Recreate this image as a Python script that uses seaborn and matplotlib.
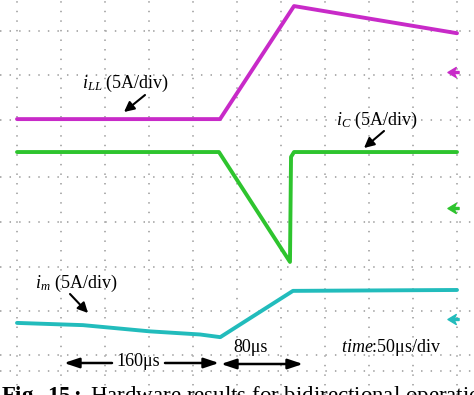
import numpy as np
import pandas as pd
import matplotlib
matplotlib.use("Agg")
import matplotlib.pyplot as plt
import seaborn as sns
from matplotlib.path import Path

# ---------------- data (time in us, level in screen divisions) ----------------
ill_t = [0, 230.7, 314.8, 500]
ill_v = [6.20, 6.20, 8.74, 8.13]

ic_t = [0, 229.5, 310.2, 311.4, 314.8, 500]
ic_v = [5.46, 5.46, 2.99, 5.35, 5.46, 5.46]

im_t = [0, 75, 151, 208, 231, 313.6, 500]
im_v = [1.62, 1.57, 1.43, 1.36, 1.30, 2.34, 2.36]

ref_t = [495, 495, 495]
ref_v = [7.26, 4.20, 1.71]

grid_t = [0, 50, 100, 150, 200, 250, 300, 350, 400, 450, 500]
grid_rows_px = [31, 75, 120, 177, 222, 267, 311, 355, 371]

colors = {"ill": "#c82ac8", "ic": "#2ec42e", "im": "#22bcbc"}

# ---------------- style ----------------
sns.set_style("white")
plt.rcParams["font.family"] = ["Liberation Serif", "DejaVu Serif"]
plt.rcParams["text.color"] = "black"
plt.rcParams["mathtext.fontset"] = "custom"
plt.rcParams["mathtext.rm"] = "Liberation Serif"
plt.rcParams["mathtext.it"] = "Liberation Serif:italic"
plt.rcParams["mathtext.bf"] = "Liberation Serif:bold"

W, H = 474, 395
fig = plt.figure(figsize=(W / 100, H / 100), dpi=100)
ax = fig.add_axes([0, 0, 1, 1])

X0, PXUS = 17.0, 0.88      # pixel of t=0, pixels per us
PXDIV = 44.5               # pixels per division
ax.set_xlim((0 - X0) / PXUS, (W - X0) / PXUS)
ax.set_ylim(0, H / PXDIV)

# dotted graticule
ax.set_xticks(grid_t)
ax.set_yticks([(H - p) / PXDIV for p in grid_rows_px])
ax.grid(True, color="#a8a8a8", linestyle=(0, (0.8, 4.5)), linewidth=1.3)
ax.tick_params(length=0, labelbottom=False, labelleft=False)
for s in ax.spines.values():
    s.set_visible(False)

# traces
for t, v, c in [(ill_t, ill_v, colors["ill"]), (ic_t, ic_v, colors["ic"]), (im_t, im_v, colors["im"])]:
    sns.lineplot(x=t, y=v, ax=ax, color=c, linewidth=2.8, sort=False, estimator=None)

# reference-level markers
arrow_marker = Path([(-1, 0), (0.5, 0.9), (0.15, 0.18), (1, 0.18), (1, -0.18), (0.15, -0.18), (0.5, -0.9), (-1, 0)],
                    [1, 2, 2, 2, 2, 2, 2, 79])
for tv, vv, c in zip(ref_t, ref_v, [colors["ill"], colors["ic"], colors["im"]]):
    ax.plot([tv], [vv], marker=arrow_marker, markersize=8, color=c, linestyle="none")

# ---------------- annotations (figure pixel coords, y from bottom) ----------------
def fp(x, y):
    return (x, H - y)

fs = 13
arrow_kw = dict(arrowstyle="-|>,head_length=0.6,head_width=0.3", color="black", lw=1.5,
                shrinkA=0, shrinkB=0)

ax.text(*fp(82, 83), r"$i_{LL}$ (5A/div)", transform=None, fontsize=fs, va="center", ha="left")
ax.annotate("", xy=fp(124, 112), xytext=fp(145, 95), xycoords="figure pixels", textcoords="figure pixels",
            arrowprops=arrow_kw)

ax.text(*fp(336, 120), r"$i_{C}$ (5A/div)", transform=None, fontsize=fs, va="center", ha="left")
ax.annotate("", xy=fp(364, 148), xytext=fp(384, 131), xycoords="figure pixels", textcoords="figure pixels",
            arrowprops=arrow_kw)

ax.text(*fp(35, 283), r"$i_{m}$ (5A/div)", transform=None, fontsize=fs, va="center", ha="left")
ax.annotate("", xy=fp(88, 313), xytext=fp(70, 294), xycoords="figure pixels", textcoords="figure pixels",
            arrowprops=arrow_kw)

ax.text(*fp(341, 347), r"$time$:50μs/div", transform=None, fontsize=fs, va="center", ha="left")

dim_kw = dict(arrowstyle="-|>,head_length=0.9,head_width=0.3", color="black", lw=1.8, shrinkA=0, shrinkB=0)
ax.text(*fp(138, 362), "160μs", transform=None, fontsize=fs, va="center", ha="center")
ax.annotate("", xy=fp(64, 363), xytext=fp(112, 363), xycoords="figure pixels", textcoords="figure pixels",
            arrowprops=dim_kw)
ax.annotate("", xy=fp(219, 363), xytext=fp(165, 363), xycoords="figure pixels", textcoords="figure pixels",
            arrowprops=dim_kw)

ax.text(*fp(251, 348), "80μs", transform=None, fontsize=fs, va="center", ha="center")
ax.annotate("", xy=fp(221, 364), xytext=fp(303, 364), xycoords="figure pixels", textcoords="figure pixels",
            arrowprops=dict(arrowstyle="<|-|>,head_length=0.9,head_width=0.3", color="black", lw=1.8,
                            shrinkA=0, shrinkB=0))

ax.text(*fp(1, 402), r"$\mathbf{Fig.\ 15:}$ Hardware results for bidirectional operation",
        transform=None, fontsize=16.5, va="baseline", ha="left")

fig.savefig("out.png", dpi=100)
